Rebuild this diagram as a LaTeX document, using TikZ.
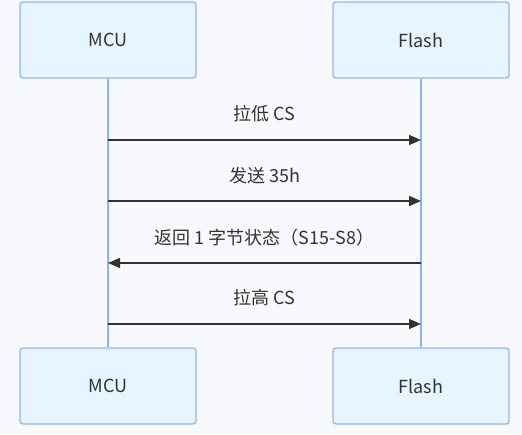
\documentclass[tikz,border=0pt]{standalone}
\usepackage{fontspec}
\setmainfont{Noto Sans CJK SC}
\usetikzlibrary{arrows.meta}
\definecolor{bg}{HTML}{F8F9FC}
\definecolor{boxfill}{HTML}{E6F5FF}
\definecolor{boxline}{HTML}{8FB8F8}
\definecolor{life}{HTML}{8AB4F8}
\definecolor{msg}{HTML}{333333}
\begin{document}
\begin{tikzpicture}[x=1pt,y=1pt,
  actor/.style={draw=boxline,line width=1.3pt,fill=boxfill,rounded corners=3pt,
    minimum width=176pt,minimum height=76pt,inner sep=0pt,font=\fontsize{18}{21}\selectfont,text=msg},
  lifeline/.style={draw=life,line width=2pt},
  message/.style={draw=msg,line width=1.6pt,-{Triangle[length=12pt,width=10pt]}},
  mlabel/.style={font=\fontsize{18}{21}\selectfont,text=msg}]
\fill[bg] (0,0) rectangle (522,434);
\useasboundingbox (0,0) rectangle (522,434);
\node[actor] (mcuT) at (108,394) {MCU};
\node[actor] (flashT) at (421,394) {Flash};
\node[actor] (mcuB) at (108,48) {MCU};
\node[actor] (flashB) at (421,48) {Flash};
\draw[lifeline] (mcuT.south) -- (mcuB.north);
\draw[lifeline] (flashT.south) -- (flashB.north);
\coordinate (m1) at (108,294);
\coordinate (f1) at (421,294);
\coordinate (m2) at (108,233);
\coordinate (f2) at (421,233);
\coordinate (m3) at (108,171);
\coordinate (f3) at (421,171);
\coordinate (m4) at (108,110);
\coordinate (f4) at (421,110);
\draw[message] (m1) -- (f1);
\draw[message] (m2) -- (f2);
\draw[message] (f3) -- (m3);
\draw[message] (m4) -- (f4);
\node[mlabel] (l1) at (264.5,320) {拉低 CS};
\node[mlabel] (l2) at (264.5,258) {发送 35h};
\node[mlabel] (l3) at (264.5,196) {返回 1 字节状态（S15-S8）};
\node[mlabel] (l4) at (264.5,136) {拉高 CS};
\end{tikzpicture}
\end{document}
